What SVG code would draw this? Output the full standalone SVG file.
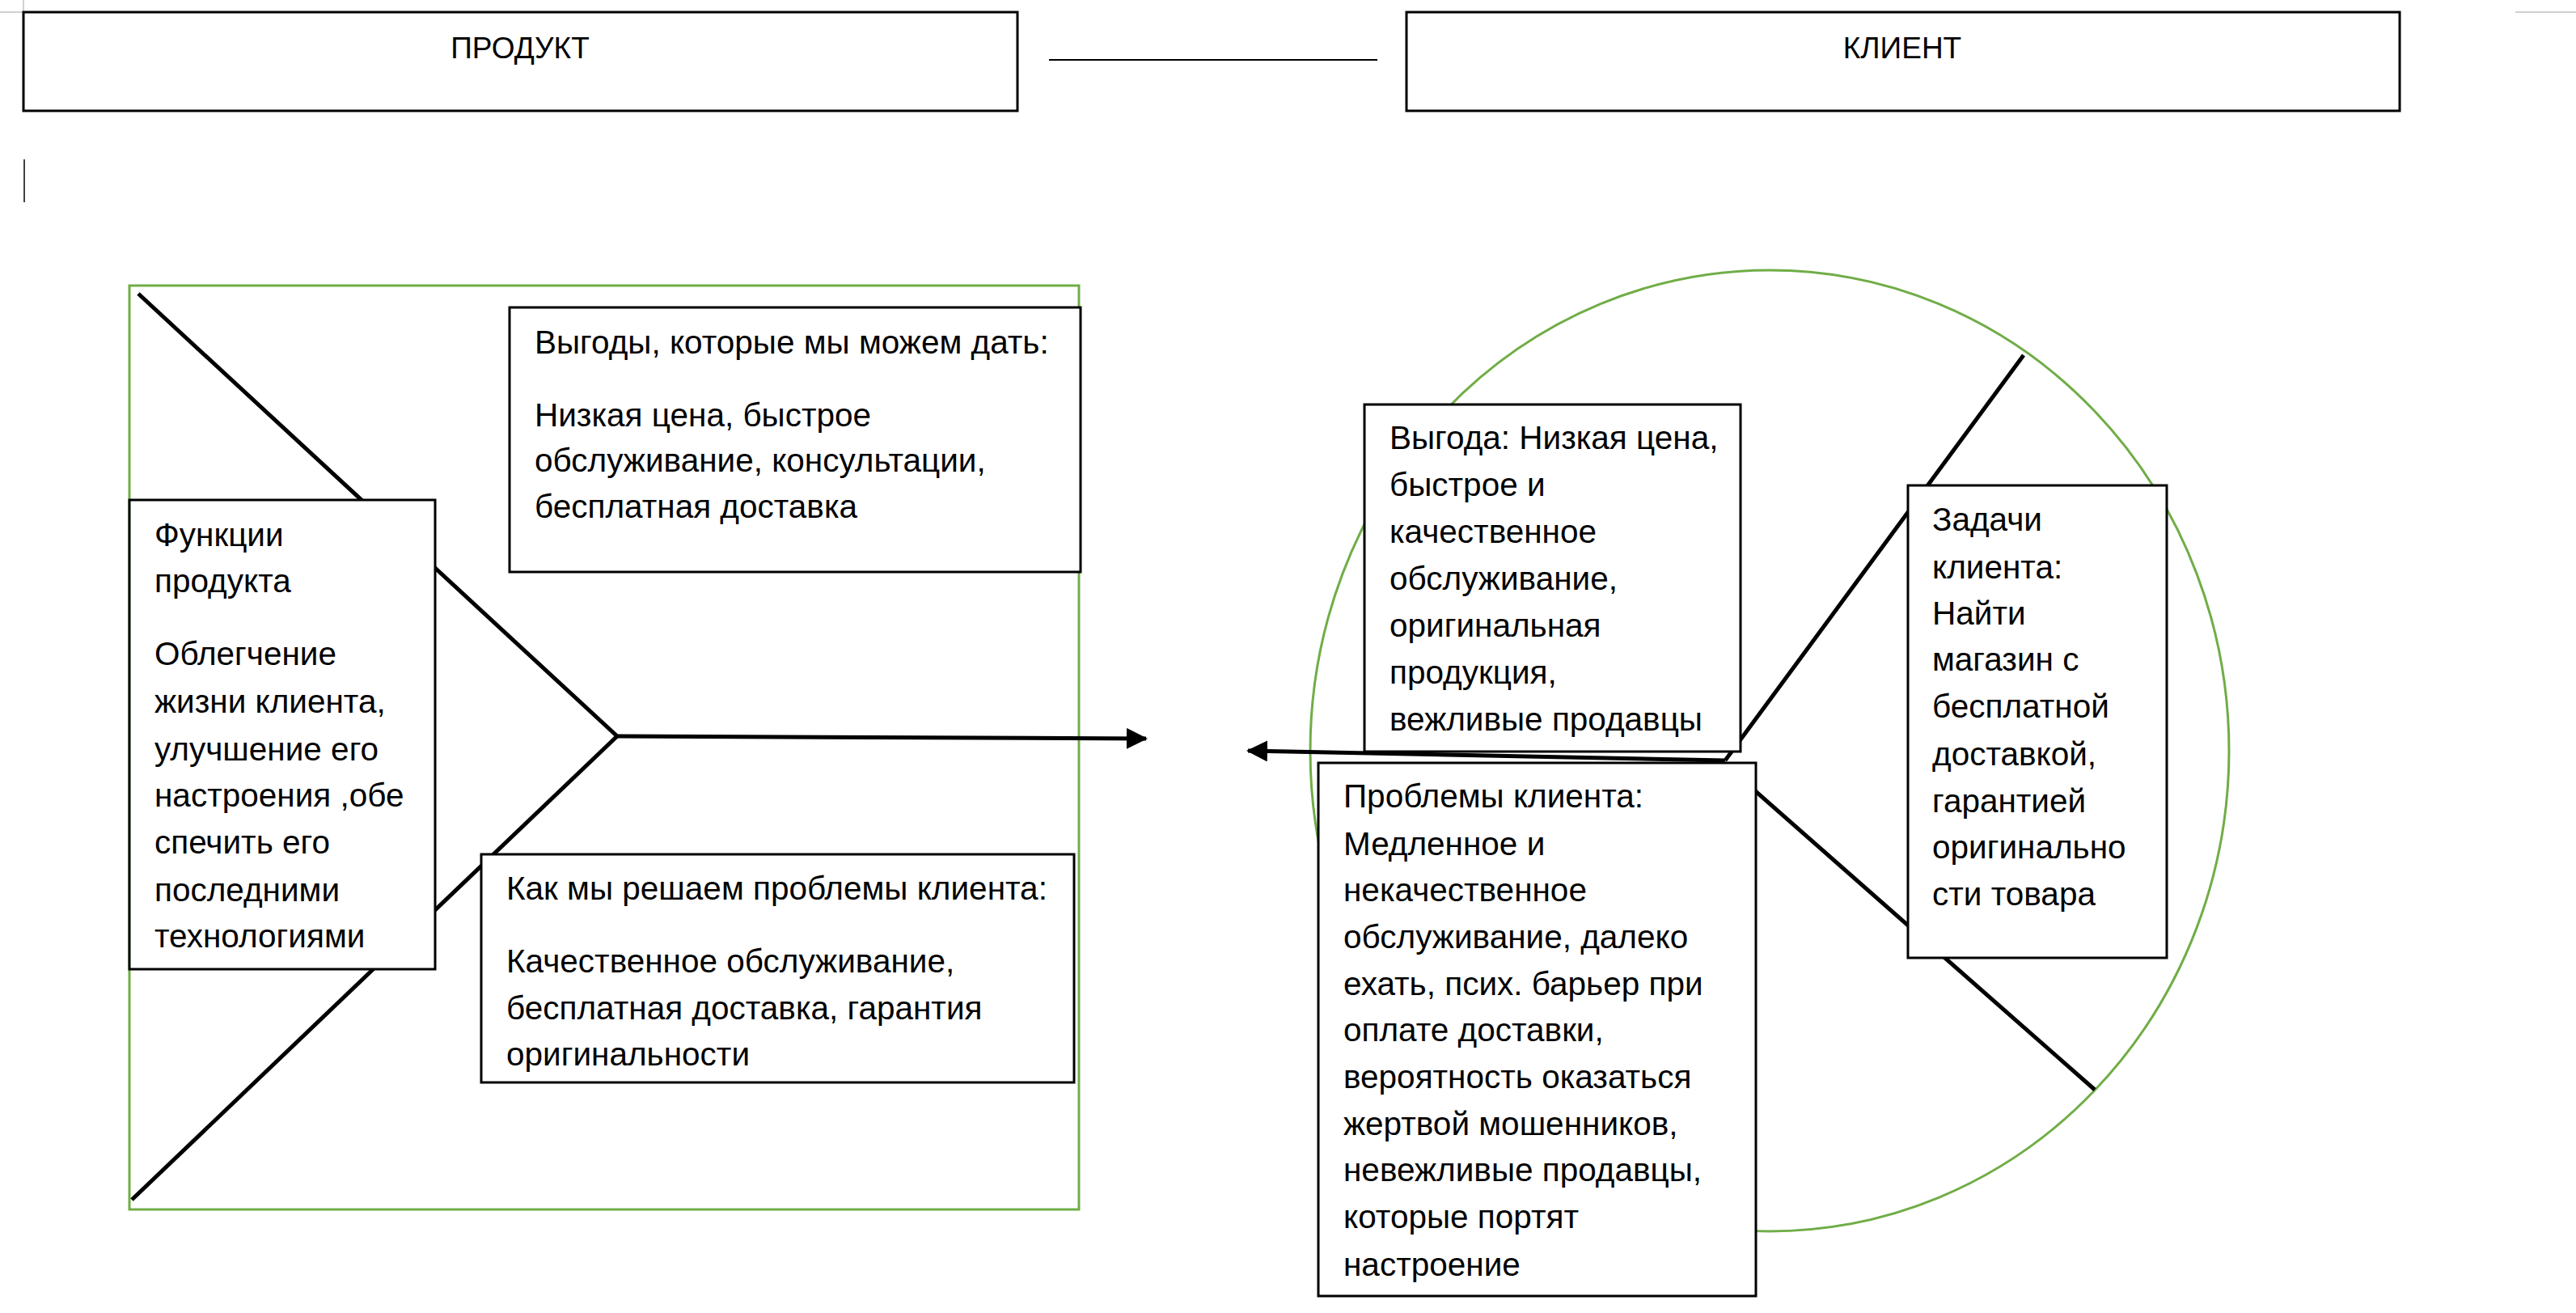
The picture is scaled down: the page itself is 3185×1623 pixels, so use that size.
<svg xmlns="http://www.w3.org/2000/svg" width="3185" height="1623" viewBox="0 0 3185 1623">
<style>
.box{fill:#fff;stroke:#000;stroke-width:3}
.green{fill:none;stroke:#70AD47;stroke-width:3}
.ln{stroke:#000;stroke-width:5;fill:none;stroke-linecap:butt}
.t{font-family:"Liberation Sans",Arial,sans-serif;font-size:40.5px;fill:#000}
.title{font-family:"Liberation Sans",Arial,sans-serif;font-size:37px;fill:#000}
.mark{stroke:#d0d0d0;stroke-width:2}
</style>
<defs>
<marker id="ah" markerUnits="userSpaceOnUse" markerWidth="26" markerHeight="26" viewBox="0 0 26 26" refX="24" refY="13" orient="auto">
<path d="M0,0 L26,13 L0,26 Z" fill="#000"/>
</marker>
</defs>
<rect width="3185" height="1623" fill="#fff"/>
<g id="page-marks">
<line class="mark" x1="0" y1="15" x2="29" y2="15"/>
<line class="mark" x1="29" y1="0" x2="29" y2="15"/>
<line class="mark" x1="3110" y1="15" x2="3185" y2="15"/>
<line x1="30" y1="197" x2="30" y2="250" stroke="#000" stroke-width="1.5"/>
</g>
<g id="frame-product">
<rect class="green" x="160" y="353" width="1174" height="1142"/>
</g>
<g id="frame-client">
<ellipse class="green" cx="2188" cy="928" rx="568" ry="594"/>
</g>
<g id="connectors">
<line class="ln" x1="1297" y1="74" x2="1703" y2="74" style="stroke-width:2"/>
<line class="ln" x1="171" y1="363" x2="763" y2="910"/>
<line class="ln" x1="763" y1="910" x2="163" y2="1483"/>
<line class="ln" x1="763" y1="910" x2="1417" y2="913" marker-end="url(#ah)"/>
<line class="ln" x1="2502" y1="439" x2="2133" y2="940"/>
<line class="ln" x1="2133" y1="945" x2="2590" y2="1347"/>
<line class="ln" x1="2133" y1="940" x2="1543" y2="928" marker-end="url(#ah)"/>
</g>
<g id="title-product">
<rect class="box" x="29" y="15" width="1229" height="122"/>
<text class="title" x="643" y="72" text-anchor="middle">ПРОДУКТ</text>
</g>
<g id="title-client">
<rect class="box" x="1739" y="15" width="1228" height="122"/>
<text class="title" x="2352" y="72" text-anchor="middle">КЛИЕНТ</text>
</g>
<g id="product-gains">
<rect class="box" x="630" y="380" width="706" height="327"/>
<text class="t" x="661" y="437">Выгоды, которые мы можем дать:</text>
<text class="t" x="661" y="527">Низкая цена, быстрое</text>
<text class="t" x="661" y="583">обслуживание, консультации,</text>
<text class="t" x="661" y="640">бесплатная доставка</text>
</g>
<g id="product-functions">
<rect class="box" x="160" y="618" width="378" height="580"/>
<text class="t" x="191" y="675">Функции</text>
<text class="t" x="191" y="732">продукта</text>
<text class="t" x="191" y="822">Облегчение</text>
<text class="t" x="191" y="881">жизни клиента,</text>
<text class="t" x="191" y="940">улучшение его</text>
<text class="t" x="191" y="997">настроения ,обе</text>
<text class="t" x="191" y="1055">спечить его</text>
<text class="t" x="191" y="1114">последними</text>
<text class="t" x="191" y="1171">технологиями</text>
</g>
<g id="product-solutions">
<rect class="box" x="595" y="1056" width="733" height="282"/>
<text class="t" x="626" y="1112">Как мы решаем проблемы клиента:</text>
<text class="t" x="626" y="1202">Качественное обслуживание,</text>
<text class="t" x="626" y="1260">бесплатная доставка, гарантия</text>
<text class="t" x="626" y="1317">оригинальности</text>
</g>
<g id="client-gains">
<rect class="box" x="1687" y="500" width="465" height="429"/>
<text class="t" x="1718" y="555">Выгода: Низкая цена,</text>
<text class="t" x="1718" y="613">быстрое и</text>
<text class="t" x="1718" y="671">качественное</text>
<text class="t" x="1718" y="729">обслуживание,</text>
<text class="t" x="1718" y="787">оригинальная</text>
<text class="t" x="1718" y="845">продукция,</text>
<text class="t" x="1718" y="903">вежливые продавцы</text>
</g>
<g id="client-jobs">
<rect class="box" x="2359" y="600" width="320" height="584"/>
<text class="t" x="2389" y="656">Задачи</text>
<text class="t" x="2389" y="715">клиента:</text>
<text class="t" x="2389" y="772">Найти</text>
<text class="t" x="2389" y="829">магазин с</text>
<text class="t" x="2389" y="887">бесплатной</text>
<text class="t" x="2389" y="946">доставкой,</text>
<text class="t" x="2389" y="1004">гарантией</text>
<text class="t" x="2389" y="1061">оригинально</text>
<text class="t" x="2389" y="1119">сти товара</text>
</g>
<g id="client-pains">
<rect class="box" x="1630" y="943" width="541" height="659"/>
<text class="t" x="1661" y="998">Проблемы клиента:</text>
<text class="t" x="1661" y="1057">Медленное и</text>
<text class="t" x="1661" y="1114">некачественное</text>
<text class="t" x="1661" y="1172">обслуживание, далеко</text>
<text class="t" x="1661" y="1230">ехать, псих. барьер при</text>
<text class="t" x="1661" y="1287">оплате доставки,</text>
<text class="t" x="1661" y="1345">вероятность оказаться</text>
<text class="t" x="1661" y="1403">жертвой мошенников,</text>
<text class="t" x="1661" y="1460">невежливые продавцы,</text>
<text class="t" x="1661" y="1518">которые портят</text>
<text class="t" x="1661" y="1577">настроение</text>
</g>
</svg>
